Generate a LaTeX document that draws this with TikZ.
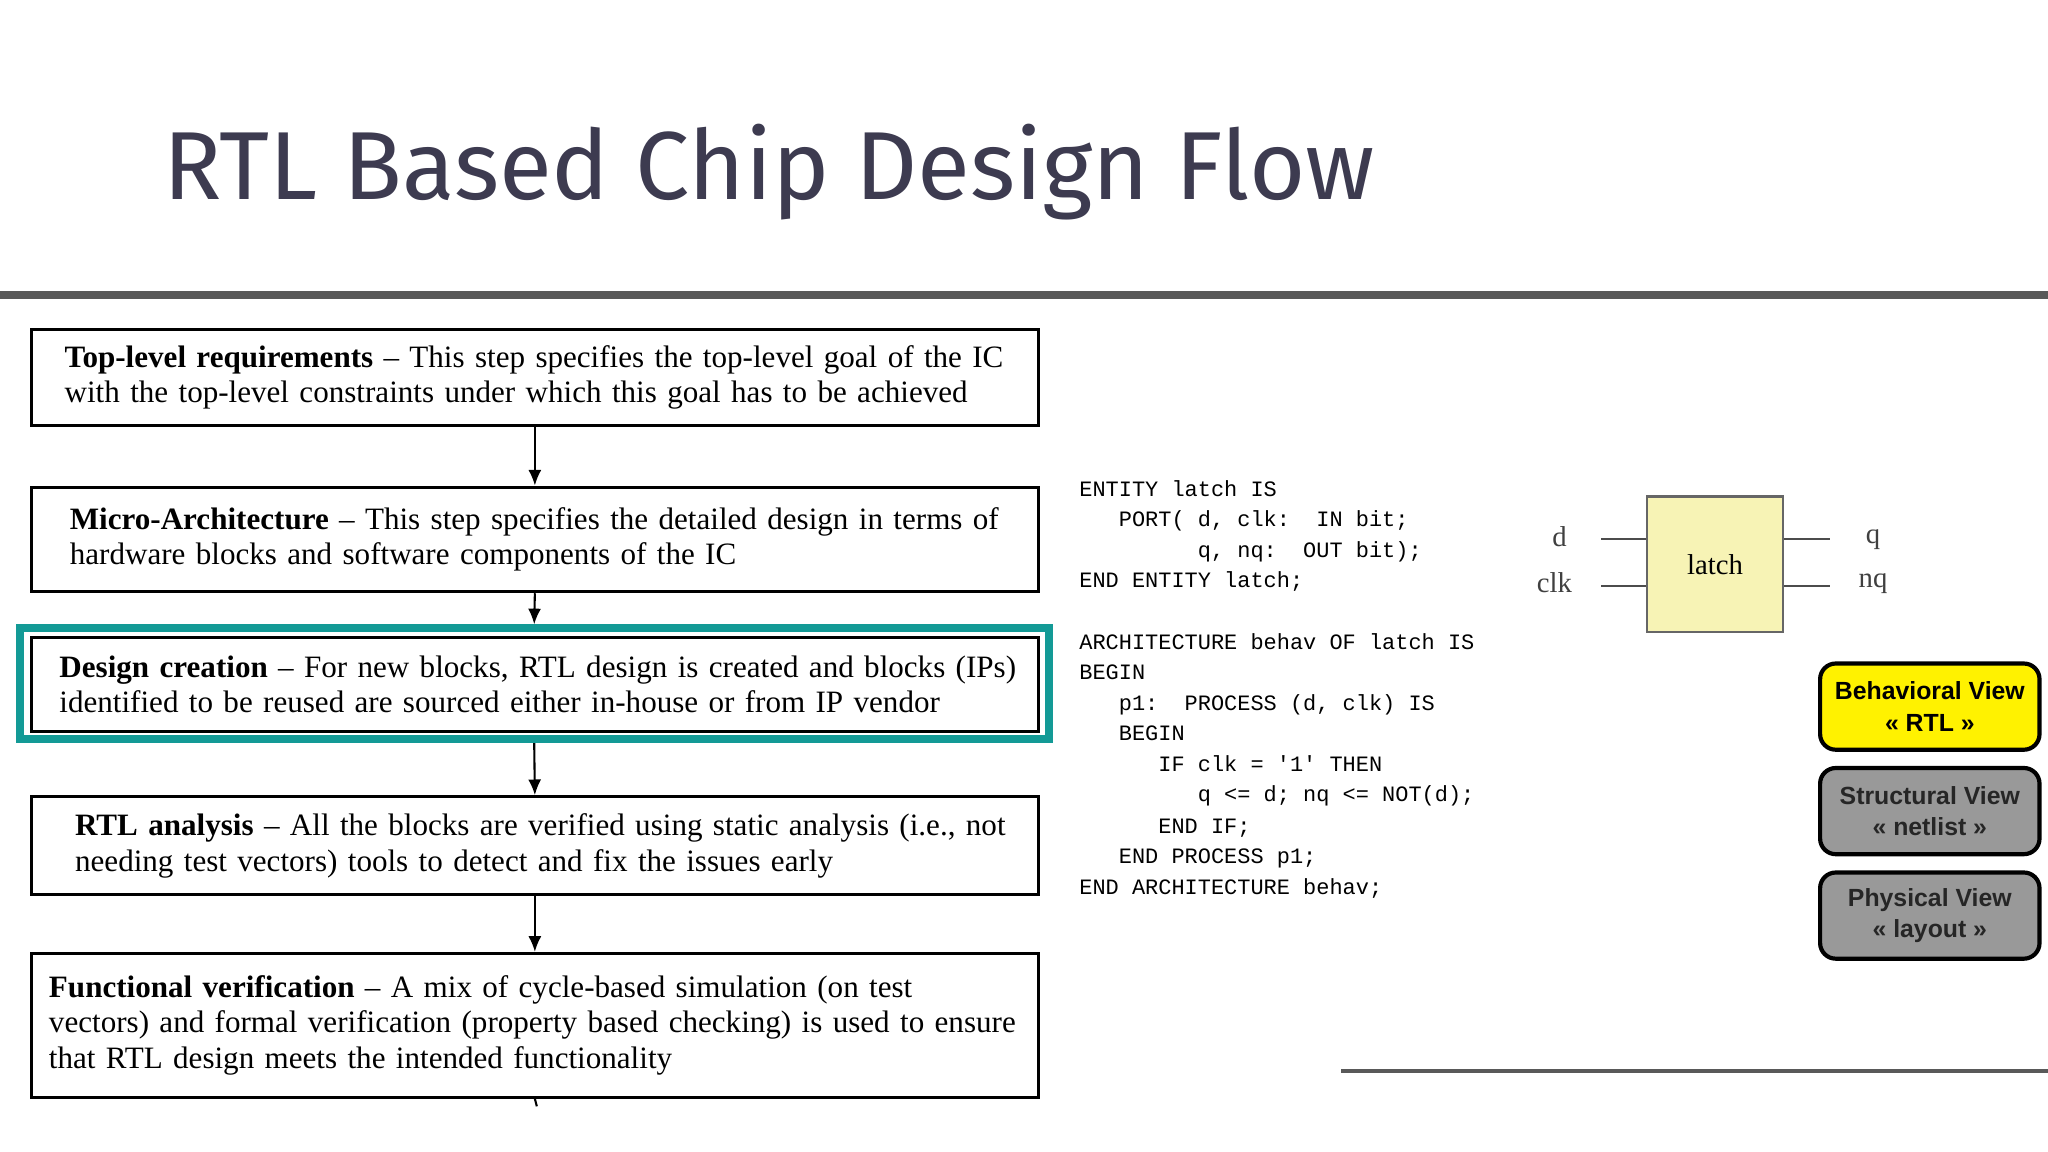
\documentclass[tikz,border=0pt]{standalone}
\usepackage{fontspec}
\setmainfont{Liberation Serif}
\newfontfamily\titlefont{Fira Sans}
\newfontfamily\codefont{Liberation Mono}
\newfontfamily\btnfont{Liberation Sans}
\definecolor{teal1}{HTML}{139A96}
\definecolor{titlec}{HTML}{3D3B50}
\definecolor{latchy}{HTML}{F7F3B5}
\tikzset{
 stepbox/.style={draw, line width=1.2pt, minimum width=385.5pt, text width=372pt, align=left, font=\fontsize{11.9}{13.6}\selectfont, inner sep=0pt},
 flowarrow/.style={-{Latex[length=6pt,width=5pt]}, line width=0.8pt},
 btn/.style={draw, line width=1.6pt, rounded corners=6pt, minimum width=84pt, minimum height=33pt, align=center, font=\btnfont\bfseries\fontsize{9.5}{12}\selectfont},
 codeline/.style={anchor=base west, inner sep=0pt, font=\codefont\fontsize{8.4}{10}\selectfont},
 sig/.style={font=\fontsize{11}{13}\selectfont, text=black!75}
}
\usetikzlibrary{arrows.meta}
\begin{document}
\begin{tikzpicture}[x=0.5pt,y=-0.5pt]
\useasboundingbox (0,0) rectangle (1568,882);
\node[anchor=base west, text=titlec, font=\titlefont\fontsize{37}{44}\selectfont] (title) at (118,153) {RTL Based Chip Design Flow};
\draw[line width=3pt, black!65] (0,226) coordinate (l1) -- (1568,226) coordinate (l2);
\node[stepbox, minimum height=37pt] (b1) at (409.5,289) {\hspace*{6pt}\textbf{Top-level requirements} -- This step specifies the top-level goal of the IC\\\hspace*{6pt}with the top-level constraints under which this goal has to be achieved};
\node[stepbox, minimum height=40pt] (b2) at (409.5,413) {\hspace*{8pt}\textbf{Micro-Architecture} -- This step specifies the detailed design in terms of\\\hspace*{8pt}hardware blocks and software components of the IC};
\node[stepbox, minimum height=36pt] (b3) at (409.5,524) {\hspace*{4pt}\textbf{Design creation} -- For new blocks, RTL design is created and blocks (IPs)\\\hspace*{4pt}identified to be reused are sourced either in-house or from IP vendor};
\node[draw=teal1, line width=3pt, minimum width=394pt, minimum height=42.5pt, inner sep=0pt] (hl) at (409,523.5) {};
\node[stepbox, minimum height=37.5pt] (b4) at (409.5,647.5) {\hspace*{10pt}\textbf{RTL analysis} -- All the blocks are verified using static analysis (i.e., not\\\hspace*{10pt}needing test vectors) tools to detect and fix the issues early};
\node[stepbox, minimum height=55pt] (b5) at (409.5,785) {\textbf{Functional verification} -- A mix of cycle-based simulation (on test\\vectors) and formal verification (property based checking) is used to ensure\\that RTL design meets the intended functionality};
\draw[flowarrow] (b1.south) -- (b2.north);
\draw[flowarrow] (b2.south) -- (hl.north);
\draw[flowarrow] (hl.south) -- (b4.north);
\draw[flowarrow] (b4.south) -- (b5.north);
\coordinate (tk) at (411,847);
\draw[line width=0.8pt] (b5.south) -- (tk);
% code
\foreach \t/\y in {{ENTITY latch IS}/380,{\ \ \ PORT( d, clk:\ \ IN bit;}/403,{\ \ \ \ \ \ \ \ \ q, nq:\ \ OUT bit);}/427,{END ENTITY latch;}/450,{ARCHITECTURE behav OF latch IS}/497,{BEGIN}/520,{\ \ \ p1:\ \ PROCESS (d, clk) IS}/544,{\ \ \ BEGIN}/567,{\ \ \ \ \ \ IF clk = '1' THEN}/591,{\ \ \ \ \ \ \ \ \ q <= d; nq <= NOT(d);}/614,{\ \ \ \ \ \ END IF;}/638,{\ \ \ END PROCESS p1;}/661,{END ARCHITECTURE behav;}/685}
 \node[codeline] at (826,\y) {\t};
% latch
\node[draw=black!60, fill=latchy, line width=1pt, minimum width=52pt, minimum height=52pt, inner sep=0pt, font=\fontsize{11}{13}\selectfont] (latch) at (1313,432) {latch};
\coordinate (din) at (1226,413); \coordinate (cin) at (1226,449);
\coordinate (qo) at (1401,413); \coordinate (nqo) at (1401,449);
\draw[line width=0.8pt, black!70] (din) -- (latch.west|-din);
\draw[line width=0.8pt, black!70] (cin) -- (latch.west|-cin);
\draw[line width=0.8pt, black!70] (latch.east|-qo) -- (qo);
\draw[line width=0.8pt, black!70] (latch.east|-nqo) -- (nqo);
\node[sig] (dl) at (1194,411) {d};
\node[sig] (cl) at (1190,446) {clk};
\node[sig] (ql) at (1434,413) {q};
\node[sig] (nql) at (1434,447) {nq};
% buttons
\node[btn, fill=yellow] (bv) at (1477.5,541) {Behavioral View\\« RTL »};
\node[btn, fill=black!40, text=black!85] (sv) at (1477.5,621) {Structural View\\« netlist »};
\node[btn, fill=black!40, text=black!85] (pv) at (1477.5,701) {Physical View\\« layout »};
\draw[line width=1.5pt, black!65] (1027,820) coordinate (l3) -- (1568,820) coordinate (l4);
\end{tikzpicture}
\end{document}
